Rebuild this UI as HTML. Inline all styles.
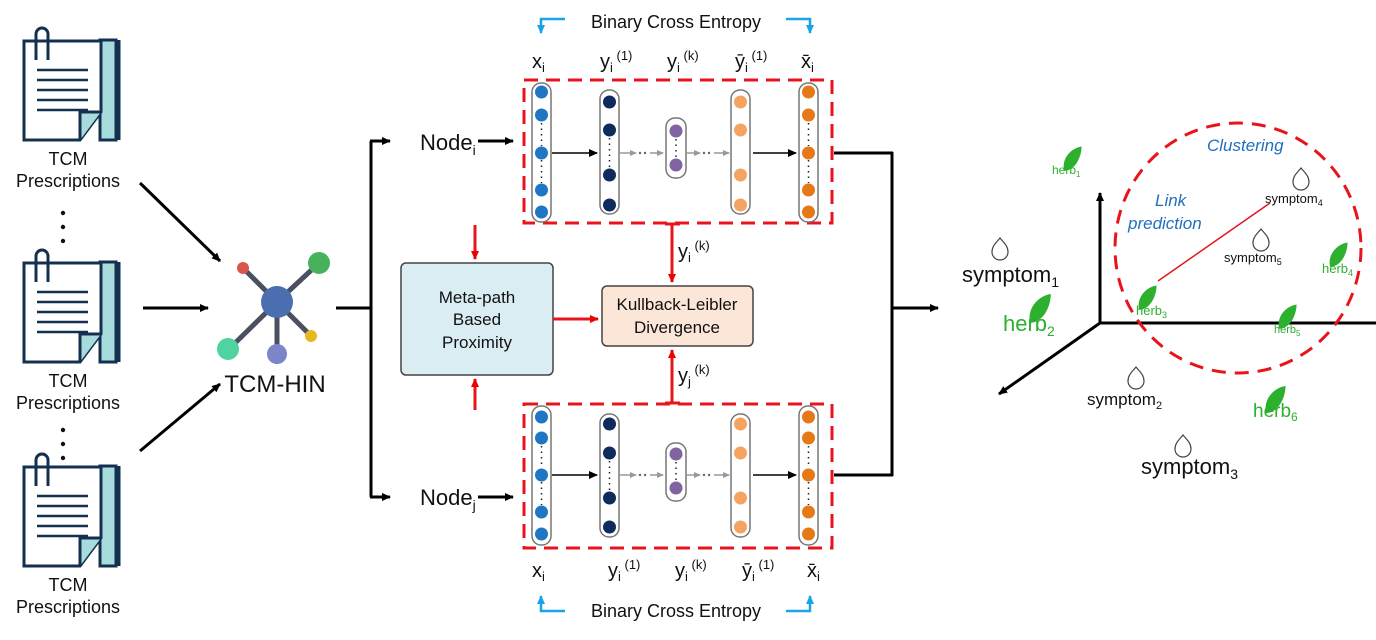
<!DOCTYPE html>
<html><head><meta charset="utf-8"><style>
html,body{margin:0;padding:0;background:#fff;}
svg{display:block;font-family:"Liberation Sans","DejaVu Sans",sans-serif;}
</style></head><body>
<svg width="1376" height="640" viewBox="0 0 1376 640" xmlns="http://www.w3.org/2000/svg">
<defs>
<marker id="ak" markerWidth="10" markerHeight="10" refX="8" refY="5" orient="auto" markerUnits="userSpaceOnUse"><path d="M0,1 L9,5 L0,9 z" fill="#000"/></marker>
<marker id="ar" markerWidth="10" markerHeight="10" refX="8" refY="5" orient="auto" markerUnits="userSpaceOnUse"><path d="M0,1 L9,5 L0,9 z" fill="#e00"/></marker>
<marker id="ab" markerWidth="10" markerHeight="10" refX="8" refY="5" orient="auto" markerUnits="userSpaceOnUse"><path d="M0,1 L9,5 L0,9 z" fill="#1aa3e8"/></marker>
<marker id="ag" markerWidth="8" markerHeight="8" refX="6" refY="4" orient="auto" markerUnits="userSpaceOnUse"><path d="M0,1 L7,4 L0,7 z" fill="#999"/></marker>
</defs>

<g fill="none" stroke="#14304f" stroke-width="3">
 <rect x="100" y="40" width="16" height="100" fill="#a8dcdc"/>
 <line x1="119" y1="40" x2="119" y2="140"/>
 <path d="M24,41 L101,41 L101,112 L80,140 L24,140 z" fill="#fff"/>
 <path d="M80,140 L80,112 L101,112" fill="#a8dcdc"/>
 <path d="M36,60 V34 a6,6 0 0 1 12,0 V60" />
 <g stroke-width="2.5"><line x1="37" y1="70" x2="88" y2="70"/><line x1="37" y1="80" x2="88" y2="80"/><line x1="37" y1="90" x2="88" y2="90"/><line x1="37" y1="100" x2="88" y2="100"/><line x1="37" y1="110" x2="88" y2="110"/></g>
 <rect x="100" y="262" width="16" height="100" fill="#a8dcdc"/>
 <line x1="119" y1="262" x2="119" y2="362"/>
 <path d="M24,263 L101,263 L101,334 L80,362 L24,362 z" fill="#fff"/>
 <path d="M80,362 L80,334 L101,334" fill="#a8dcdc"/>
 <path d="M36,282 V256 a6,6 0 0 1 12,0 V282" />
 <g stroke-width="2.5"><line x1="37" y1="292" x2="88" y2="292"/><line x1="37" y1="302" x2="88" y2="302"/><line x1="37" y1="312" x2="88" y2="312"/><line x1="37" y1="322" x2="88" y2="322"/><line x1="37" y1="332" x2="88" y2="332"/></g>
 <rect x="100" y="466" width="16" height="100" fill="#a8dcdc"/>
 <line x1="119" y1="466" x2="119" y2="566"/>
 <path d="M24,467 L101,467 L101,538 L80,566 L24,566 z" fill="#fff"/>
 <path d="M80,566 L80,538 L101,538" fill="#a8dcdc"/>
 <path d="M36,486 V460 a6,6 0 0 1 12,0 V486" />
 <g stroke-width="2.5"><line x1="37" y1="496" x2="88" y2="496"/><line x1="37" y1="506" x2="88" y2="506"/><line x1="37" y1="516" x2="88" y2="516"/><line x1="37" y1="526" x2="88" y2="526"/><line x1="37" y1="536" x2="88" y2="536"/></g>
</g>
<g font-size="18" fill="#111" text-anchor="middle">
 <text x="68" y="165">TCM</text><text x="68" y="187">Prescriptions</text>
 <text x="68" y="387">TCM</text><text x="68" y="409">Prescriptions</text>
 <text x="68" y="591">TCM</text><text x="68" y="613">Prescriptions</text>
</g>
<g fill="#111"><circle cx="63" cy="213" r="2.2"/><circle cx="63" cy="227" r="2.2"/><circle cx="63" cy="241" r="2.2"/>
<circle cx="63" cy="430" r="2.2"/><circle cx="63" cy="444" r="2.2"/><circle cx="63" cy="458" r="2.2"/></g>

<g stroke="#000" stroke-width="3" marker-end="url(#ak)">
<line x1="140" y1="183" x2="220" y2="261"/>
<line x1="143" y1="308" x2="208" y2="308"/>
<line x1="140" y1="451" x2="220" y2="384"/>
</g>
<g stroke="#4a5060" stroke-width="5">
<line x1="277" y1="302" x2="243" y2="268"/><line x1="277" y1="302" x2="319" y2="263"/><line x1="277" y1="302" x2="311" y2="336"/><line x1="277" y1="302" x2="277" y2="352"/><line x1="277" y1="302" x2="229" y2="349"/>
</g>
<circle cx="277" cy="302" r="16" fill="#4a6eb0"/>
<circle cx="243" cy="268" r="6" fill="#d9574a"/>
<circle cx="319" cy="263" r="11" fill="#46b25a"/>
<circle cx="311" cy="336" r="6" fill="#e8b820"/>
<circle cx="277" cy="354" r="10" fill="#7a86c8"/>
<circle cx="228" cy="349" r="11" fill="#4fd4a0"/>
<text x="275" y="392" font-size="24" text-anchor="middle" fill="#111">TCM-HIN</text>

<g stroke="#000" stroke-width="3" fill="none">
<line x1="336" y1="308" x2="371" y2="308"/>
<line x1="371" y1="141" x2="371" y2="497"/>
<line x1="370" y1="141" x2="390" y2="141" marker-end="url(#ak)"/>
<line x1="370" y1="497" x2="390" y2="497" marker-end="url(#ak)"/>
<line x1="478" y1="141" x2="513" y2="141" marker-end="url(#ak)"/>
<line x1="478" y1="497" x2="513" y2="497" marker-end="url(#ak)"/>
</g>
<text x="420" y="150" font-size="22" fill="#111">Node<tspan font-size="14" dy="5">i</tspan></text>
<text x="420" y="505" font-size="22" fill="#111">Node<tspan font-size="14" dy="5">j</tspan></text>

<g fill="none" stroke="#e8141c" stroke-width="3" stroke-dasharray="14,8">
<rect x="524" y="80" width="308" height="143"/>
<rect x="524" y="404" width="308" height="144"/>
</g>
<g stroke="#777" stroke-width="1.5" fill="#fff">
<rect x="532" y="83" width="19" height="139" rx="9"/>
<rect x="600" y="90" width="19" height="124" rx="9"/>
<rect x="666" y="118" width="20" height="60" rx="9"/>
<rect x="731" y="90" width="19" height="124" rx="9"/>
<rect x="799" y="83" width="19" height="139" rx="9"/>
<rect x="532" y="406" width="19" height="139" rx="9"/>
<rect x="600" y="414" width="19" height="123" rx="9"/>
<rect x="666" y="443" width="20" height="58" rx="9"/>
<rect x="731" y="414" width="19" height="123" rx="9"/>
<rect x="799" y="406" width="19" height="139" rx="9"/>
</g>
<g fill="#1f77c4"><circle cx="541.5" cy="92" r="6.5"/><circle cx="541.5" cy="115" r="6.5"/><circle cx="541.5" cy="153" r="6.5"/><circle cx="541.5" cy="190" r="6.5"/><circle cx="541.5" cy="212" r="6.5"/>
<circle cx="541.5" cy="417" r="6.5"/><circle cx="541.5" cy="438" r="6.5"/><circle cx="541.5" cy="475" r="6.5"/><circle cx="541.5" cy="512" r="6.5"/><circle cx="541.5" cy="534" r="6.5"/></g>
<g fill="#0f2a5c"><circle cx="609.5" cy="102" r="6.5"/><circle cx="609.5" cy="130" r="6.5"/><circle cx="609.5" cy="175" r="6.5"/><circle cx="609.5" cy="205" r="6.5"/>
<circle cx="609.5" cy="424" r="6.5"/><circle cx="609.5" cy="453" r="6.5"/><circle cx="609.5" cy="498" r="6.5"/><circle cx="609.5" cy="527" r="6.5"/></g>
<g fill="#8064a2"><circle cx="676" cy="131" r="6.5"/><circle cx="676" cy="165" r="6.5"/><circle cx="676" cy="454" r="6.5"/><circle cx="676" cy="488" r="6.5"/></g>
<g fill="#f4a460"><circle cx="740.5" cy="102" r="6.5"/><circle cx="740.5" cy="130" r="6.5"/><circle cx="740.5" cy="175" r="6.5"/><circle cx="740.5" cy="205" r="6.5"/>
<circle cx="740.5" cy="424" r="6.5"/><circle cx="740.5" cy="453" r="6.5"/><circle cx="740.5" cy="498" r="6.5"/><circle cx="740.5" cy="527" r="6.5"/></g>
<g fill="#e67817"><circle cx="808.5" cy="92" r="6.5"/><circle cx="808.5" cy="115" r="6.5"/><circle cx="808.5" cy="153" r="6.5"/><circle cx="808.5" cy="190" r="6.5"/><circle cx="808.5" cy="212" r="6.5"/>
<circle cx="808.5" cy="417" r="6.5"/><circle cx="808.5" cy="438" r="6.5"/><circle cx="808.5" cy="475" r="6.5"/><circle cx="808.5" cy="512" r="6.5"/><circle cx="808.5" cy="534" r="6.5"/></g>
<g stroke="#222" stroke-width="1.5" stroke-dasharray="1.5,4">
<line x1="541.5" y1="123" x2="541.5" y2="146"/><line x1="541.5" y1="160" x2="541.5" y2="183"/>
<line x1="609.5" y1="138" x2="609.5" y2="168"/><line x1="676" y1="139" x2="676" y2="158"/>
<line x1="808.5" y1="123" x2="808.5" y2="146"/><line x1="808.5" y1="160" x2="808.5" y2="183"/>
<line x1="541.5" y1="446" x2="541.5" y2="468"/><line x1="541.5" y1="482" x2="541.5" y2="505"/>
<line x1="609.5" y1="461" x2="609.5" y2="491"/><line x1="676" y1="462" x2="676" y2="481"/>
<line x1="808.5" y1="446" x2="808.5" y2="468"/><line x1="808.5" y1="482" x2="808.5" y2="505"/>
</g>
<g stroke="#000" stroke-width="1.5">
<line x1="552" y1="153" x2="597" y2="153" marker-end="url(#ak)"/>
<line x1="753" y1="153" x2="796" y2="153" marker-end="url(#ak)"/>
<line x1="552" y1="475" x2="597" y2="475" marker-end="url(#ak)"/>
<line x1="753" y1="475" x2="796" y2="475" marker-end="url(#ak)"/>
</g>
<g stroke="#999" stroke-width="1.5">
<line x1="620" y1="153" x2="636" y2="153" marker-end="url(#ag)"/><line x1="650" y1="153" x2="663" y2="153" marker-end="url(#ag)"/>
<line x1="687" y1="153" x2="700" y2="153" marker-end="url(#ag)"/><line x1="714" y1="153" x2="729" y2="153" marker-end="url(#ag)"/>
<line x1="620" y1="475" x2="636" y2="475" marker-end="url(#ag)"/><line x1="650" y1="475" x2="663" y2="475" marker-end="url(#ag)"/>
<line x1="687" y1="475" x2="700" y2="475" marker-end="url(#ag)"/><line x1="714" y1="475" x2="729" y2="475" marker-end="url(#ag)"/>
</g>
<g fill="#666"><circle cx="640" cy="153" r="1.2"/><circle cx="645" cy="153" r="1.2"/><circle cx="704" cy="153" r="1.2"/><circle cx="709" cy="153" r="1.2"/>
<circle cx="640" cy="475" r="1.2"/><circle cx="645" cy="475" r="1.2"/><circle cx="704" cy="475" r="1.2"/><circle cx="709" cy="475" r="1.2"/></g>

<g font-size="20" fill="#111">
<text x="532" y="68">x<tspan font-size="13" dy="4">i</tspan></text>
<text x="600" y="68">y<tspan font-size="13" dy="4">i</tspan><tspan font-size="13" dy="-12"> (1)</tspan></text>
<text x="667" y="68">y<tspan font-size="13" dy="4">i</tspan><tspan font-size="13" dy="-12"> (k)</tspan></text>
<text x="735" y="68">ȳ<tspan font-size="13" dy="4">i</tspan><tspan font-size="13" dy="-12"> (1)</tspan></text>
<text x="801" y="68">x̄<tspan font-size="13" dy="4">i</tspan></text>
<text x="532" y="577">x<tspan font-size="13" dy="4">i</tspan></text>
<text x="608" y="577">y<tspan font-size="13" dy="4">i</tspan><tspan font-size="13" dy="-12"> (1)</tspan></text>
<text x="675" y="577">y<tspan font-size="13" dy="4">i</tspan><tspan font-size="13" dy="-12"> (k)</tspan></text>
<text x="742" y="577">ȳ<tspan font-size="13" dy="4">i</tspan><tspan font-size="13" dy="-12"> (1)</tspan></text>
<text x="807" y="577">x̄<tspan font-size="13" dy="4">i</tspan></text>
</g>
<g font-size="18" fill="#111" text-anchor="middle">
<text x="676" y="28">Binary Cross Entropy</text>
<text x="676" y="617">Binary Cross Entropy</text>
</g>
<g stroke="#1aa3e8" stroke-width="2.5" fill="none">
<polyline points="565,19 541,19 541,33" marker-end="url(#ab)"/>
<polyline points="786,19 810,19 810,33" marker-end="url(#ab)"/>
<polyline points="565,611 541,611 541,596" marker-end="url(#ab)"/>
<polyline points="786,611 810,611 810,596" marker-end="url(#ab)"/>
</g>

<rect x="401" y="263" width="152" height="112" rx="5" fill="#daedf3" stroke="#444" stroke-width="1.5"/>
<g font-size="17" fill="#111" text-anchor="middle">
<text x="477" y="303">Meta-path</text><text x="477" y="325">Based</text><text x="477" y="348">Proximity</text>
</g>
<rect x="602" y="286" width="151" height="60" rx="5" fill="#fbe6d8" stroke="#444" stroke-width="1.5"/>
<g font-size="17" fill="#111" text-anchor="middle">
<text x="677" y="310">Kullback-Leibler</text><text x="677" y="333">Divergence</text>
</g>
<g stroke="#e8141c" stroke-width="3" fill="none">
<line x1="475" y1="225" x2="475" y2="259" marker-end="url(#ar)"/>
<line x1="475" y1="410" x2="475" y2="379" marker-end="url(#ar)"/>
<line x1="553" y1="319" x2="598" y2="319" marker-end="url(#ar)"/>
<line x1="672" y1="224" x2="672" y2="282" marker-end="url(#ar)"/>
<line x1="672" y1="403" x2="672" y2="350" marker-end="url(#ar)"/>
<line x1="665" y1="224" x2="680" y2="224"/>
<line x1="665" y1="403" x2="680" y2="403"/>
</g>
<g font-size="20" fill="#111">
<text x="678" y="258">y<tspan font-size="13" dy="4">i</tspan><tspan font-size="13" dy="-12"> (k)</tspan></text>
<text x="678" y="382">y<tspan font-size="13" dy="4">j</tspan><tspan font-size="13" dy="-12"> (k)</tspan></text>
</g>

<g stroke="#000" stroke-width="3" fill="none">
<line x1="834" y1="153" x2="893" y2="153"/>
<line x1="834" y1="475" x2="893" y2="475"/>
<line x1="892" y1="152" x2="892" y2="476"/>
<line x1="891" y1="308" x2="938" y2="308" marker-end="url(#ak)"/>
</g>

<g stroke="#000" stroke-width="3" fill="none">
<line x1="1100" y1="323" x2="1100" y2="193" marker-end="url(#ak)"/>
<line x1="1099" y1="323" x2="1376" y2="323"/>
<line x1="1100" y1="323" x2="999" y2="394" marker-end="url(#ak)"/>
</g>
<ellipse cx="1238" cy="248" rx="123" ry="125" fill="none" stroke="#e8141c" stroke-width="3" stroke-dasharray="14,9"/>
<line x1="1158" y1="281" x2="1270" y2="203" stroke="#e8141c" stroke-width="1.5"/>
<g font-style="italic" fill="#1f6fc0" font-size="17">
<text x="1207" y="151">Clustering</text>
<text x="1155" y="206">Link</text><text x="1128" y="229">prediction</text>
</g>
<g fill="#2db02d">
<path d="M0,8 C-2,-2 6,-9 13,-10 C13,-2 8,8 0,8z" transform="translate(1064,160) scale(1.35)"/>
<path d="M0,8 C-2,-2 6,-9 13,-10 C13,-2 8,8 0,8z" transform="translate(1030,310) scale(1.6)"/>
<path d="M0,8 C-2,-2 6,-9 13,-10 C13,-2 8,8 0,8z" transform="translate(1139,299) scale(1.35)"/>
<path d="M0,8 C-2,-2 6,-9 13,-10 C13,-2 8,8 0,8z" transform="translate(1330,256) scale(1.35)"/>
<path d="M0,8 C-2,-2 6,-9 13,-10 C13,-2 8,8 0,8z" transform="translate(1279,318) scale(1.35)"/>
<path d="M0,8 C-2,-2 6,-9 13,-10 C13,-2 8,8 0,8z" transform="translate(1266,401) scale(1.5)"/>
</g>
<g fill="none" stroke="#444" stroke-width="1.2">
<path d="M-8,5 a8,8 0 1 0 16,0 c0,-6 -4,-9 -8,-14 c-4,5 -8,8 -8,14z" transform="translate(1301,177)"/>
<path d="M-8,5 a8,8 0 1 0 16,0 c0,-6 -4,-9 -8,-14 c-4,5 -8,8 -8,14z" transform="translate(1261,238)"/>
<path d="M-8,5 a8,8 0 1 0 16,0 c0,-6 -4,-9 -8,-14 c-4,5 -8,8 -8,14z" transform="translate(1000,247)"/>
<path d="M-8,5 a8,8 0 1 0 16,0 c0,-6 -4,-9 -8,-14 c-4,5 -8,8 -8,14z" transform="translate(1136,376)"/>
<path d="M-8,5 a8,8 0 1 0 16,0 c0,-6 -4,-9 -8,-14 c-4,5 -8,8 -8,14z" transform="translate(1183,444)"/>
</g>
<g fill="#111">
<text x="1265" y="203" font-size="13">symptom<tspan font-size="9" dy="3">4</tspan></text>
<text x="1224" y="262" font-size="13">symptom<tspan font-size="9" dy="3">5</tspan></text>
<text x="962" y="282" font-size="22">symptom<tspan font-size="14" dy="5">1</tspan></text>
<text x="1087" y="405" font-size="17">symptom<tspan font-size="11" dy="4">2</tspan></text>
<text x="1141" y="474" font-size="22">symptom<tspan font-size="14" dy="5">3</tspan></text>
</g>
<g fill="#2db02d">
<text x="1052" y="174" font-size="12">herb<tspan font-size="8" dy="3">1</tspan></text>
<text x="1003" y="331" font-size="22">herb<tspan font-size="14" dy="5">2</tspan></text>
<text x="1136" y="315" font-size="13">herb<tspan font-size="9" dy="3">3</tspan></text>
<text x="1322" y="273" font-size="13">herb<tspan font-size="9" dy="3">4</tspan></text>
<text x="1274" y="333" font-size="11">herb<tspan font-size="8" dy="3">5</tspan></text>
<text x="1253" y="417" font-size="19">herb<tspan font-size="12" dy="4">6</tspan></text>
</g>
</svg>
</body></html>
